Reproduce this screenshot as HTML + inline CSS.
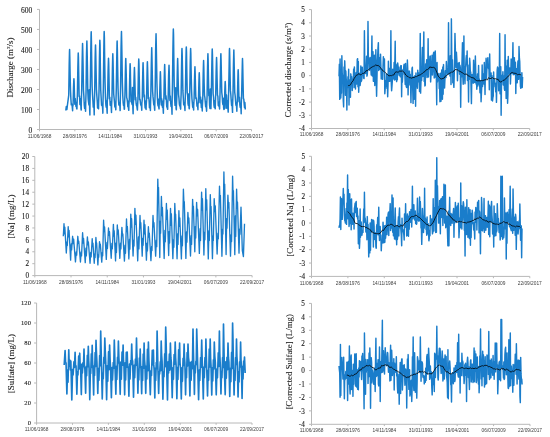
<!DOCTYPE html>
<html><head><meta charset="utf-8"><style>
html,body{margin:0;padding:0;background:#fff;width:550px;height:437px;overflow:hidden}
svg{display:block}
.yl{font-family:"Liberation Serif",serif;fill:#1a1a1a;stroke:#1a1a1a;stroke-width:0.1px;text-anchor:end}
.dl{font-family:"Liberation Sans",sans-serif;font-size:4.8px;fill:#404040;text-anchor:middle}
.tt{font-family:"Liberation Serif",serif;fill:#1a1a1a;stroke:#1a1a1a;stroke-width:0.08px;text-anchor:middle}
</style></head><body>
<svg width="550" height="437" viewBox="0 0 550 437">
<rect width="550" height="437" fill="#fff"/>
<path d="M65.80,110.48L66.30,106.48L66.90,109.48L67.50,104.48L68.75,95.05L69.20,64.25L69.48,51.99L69.60,49.43L69.80,57.33L70.10,74.23L70.50,89.93L70.90,99.12L71.30,104.83L71.65,104.69L72.00,104.27L72.35,107.95L72.60,110.66L72.67,106.79L73.07,105.04L73.52,87.62L73.80,80.61L73.92,78.86L74.12,81.85L74.42,93.12L74.82,104.26L75.22,98.45L75.62,102.71L75.97,106.55L76.32,102.93L76.67,108.78L76.92,108.88L76.99,106.84L77.39,94.53L77.84,68.37L78.12,56.67L78.24,53.04L78.44,57.26L78.74,75.20L79.14,96.48L79.54,96.11L79.94,104.47L80.29,104.87L80.64,99.08L80.99,108.88L81.24,110.08L81.32,102.95L81.72,88.55L82.17,60.32L82.45,47.69L82.57,43.43L82.77,51.35L83.07,64.97L83.47,90.18L83.87,96.02L84.27,105.21L84.62,108.35L84.97,102.95L85.32,108.56L85.57,111.22L85.64,106.62L86.04,92.17L86.49,55.29L86.77,44.21L86.89,41.03L87.09,49.31L87.39,64.76L87.79,90.96L88.19,99.17L88.59,102.49L88.94,104.90L89.29,89.81L89.64,108.91L89.89,115.03L89.96,106.02L90.36,82.79L90.81,49.94L91.09,34.20L91.21,31.82L91.41,40.53L91.71,60.92L92.11,86.46L92.51,94.58L92.91,100.77L93.26,107.12L93.61,104.59L93.96,107.24L94.21,114.87L94.28,105.46L94.69,92.37L95.13,58.62L95.41,47.37L95.53,45.03L95.73,51.17L96.03,68.15L96.44,89.34L96.83,95.57L97.23,100.84L97.58,107.88L97.94,105.62L98.28,108.15L98.53,108.80L98.61,103.68L99.01,91.75L99.46,57.62L99.74,44.25L99.86,40.23L100.06,44.69L100.36,67.89L100.76,90.26L101.16,97.69L101.56,105.18L101.91,105.00L102.26,105.52L102.61,107.99L102.86,113.13L102.93,106.32L103.33,88.00L103.78,52.21L104.06,34.69L104.18,31.42L104.38,38.10L104.68,60.57L105.08,83.26L105.48,97.71L105.88,104.83L106.23,107.22L106.58,101.00L106.93,109.14L107.18,113.29L107.25,102.66L107.65,94.40L108.10,70.42L108.38,61.66L108.50,58.24L108.70,62.49L109.00,77.63L109.40,98.75L109.80,97.15L110.20,105.23L110.55,105.27L110.90,101.65L111.25,107.20L111.50,112.56L111.57,106.23L111.97,96.89L112.42,68.42L112.70,56.49L112.82,53.84L113.02,60.32L113.32,74.84L113.72,94.07L114.12,98.27L114.52,102.36L114.87,107.05L115.22,104.74L115.57,107.08L115.82,109.82L115.90,104.11L116.30,88.67L116.75,58.90L117.03,42.85L117.15,41.03L117.35,49.45L117.65,67.33L118.05,88.45L118.45,99.33L118.85,104.70L119.20,105.28L119.55,102.66L119.90,106.78L120.15,110.59L120.22,104.25L120.62,85.64L121.07,47.85L121.35,35.19L121.47,31.42L121.67,40.47L121.97,56.79L122.37,82.89L122.77,95.75L123.17,102.68L123.52,105.35L123.87,103.08L124.22,109.30L124.47,109.04L124.54,103.95L124.94,95.09L125.39,71.61L125.67,60.11L125.79,58.44L125.99,65.16L126.29,76.82L126.69,97.54L127.09,99.02L127.49,102.38L127.84,106.66L128.19,101.36L128.54,109.07L128.79,110.24L128.87,104.84L129.27,99.21L129.72,77.51L130.00,65.93L130.12,63.65L130.31,67.39L130.62,83.93L131.02,101.78L131.42,99.14L131.81,103.18L132.17,104.58L132.52,87.57L132.87,107.87L133.12,113.75L133.19,106.44L133.59,99.89L134.04,78.75L134.32,70.01L134.44,67.45L134.64,72.86L134.94,83.54L135.34,99.63L135.74,97.29L136.14,103.45L136.49,105.53L136.84,106.00L137.19,109.01L137.44,109.96L137.51,107.12L137.91,99.61L138.36,73.46L138.64,61.75L138.76,59.04L138.96,63.48L139.26,78.58L139.66,99.74L140.06,99.25L140.46,103.22L140.81,104.98L141.16,104.29L141.51,106.82L141.76,110.26L141.83,103.75L142.23,99.47L142.68,76.63L142.96,64.83L143.08,62.64L143.28,69.04L143.58,80.93L143.98,97.09L144.38,94.89L144.78,103.24L145.13,108.01L145.48,101.25L145.83,106.58L146.08,109.46L146.15,105.61L146.55,100.09L147.00,75.35L147.28,63.76L147.40,61.84L147.60,67.51L147.90,80.22L148.30,98.37L148.70,97.23L149.10,100.64L149.45,107.82L149.80,105.52L150.15,106.67L150.40,110.49L150.48,106.64L150.88,91.22L151.33,63.36L151.61,51.41L151.73,47.63L151.93,55.69L152.23,71.59L152.63,91.30L153.03,96.88L153.43,100.98L153.78,104.83L154.13,101.68L154.48,108.05L154.73,110.29L154.80,105.48L155.20,89.00L155.65,49.52L155.93,37.90L156.05,33.82L156.25,43.25L156.55,61.31L156.95,83.82L157.35,97.29L157.75,103.66L158.10,105.85L158.45,99.34L158.80,107.70L159.05,108.89L159.12,105.40L159.52,101.57L159.97,84.31L160.25,74.50L160.37,71.65L160.57,75.71L160.87,89.25L161.27,104.89L161.67,98.84L162.07,103.60L162.42,107.13L162.77,101.15L163.12,108.39L163.37,113.24L163.44,107.47L163.84,100.17L164.29,77.31L164.57,66.94L164.69,64.45L164.89,70.79L165.19,82.74L165.59,98.93L166.00,95.72L166.39,100.69L166.75,107.06L167.09,103.83L167.44,108.84L167.69,109.25L167.77,102.76L168.17,98.29L168.62,75.26L168.90,68.21L169.02,65.25L169.22,71.62L169.52,84.91L169.92,100.40L170.32,96.03L170.72,103.29L171.07,106.43L171.42,106.06L171.77,107.45L172.02,114.29L172.09,103.87L172.49,81.81L172.94,48.27L173.22,33.15L173.34,29.02L173.54,34.90L173.84,59.24L174.24,87.05L174.64,98.24L175.04,105.37L175.39,105.24L175.74,87.78L176.09,108.84L176.34,109.73L176.41,105.94L176.81,97.50L177.26,73.56L177.54,61.16L177.66,58.44L177.86,65.46L178.16,80.07L178.56,94.49L178.96,98.07L179.36,104.12L179.71,105.76L180.06,104.70L180.41,108.35L180.66,109.11L180.73,104.41L181.13,94.29L181.58,65.24L181.86,50.64L181.98,48.43L182.18,53.67L182.48,69.29L182.88,90.39L183.28,97.37L183.68,104.81L184.03,104.92L184.38,103.02L184.73,107.44L184.98,110.45L185.06,104.60L185.46,91.68L185.91,61.08L186.19,48.84L186.31,47.03L186.51,51.78L186.81,71.18L187.21,92.41L187.61,94.84L188.01,103.51L188.36,105.28L188.71,94.06L189.06,107.93L189.31,108.85L189.38,106.72L189.78,91.45L190.23,62.70L190.51,52.12L190.63,48.43L190.83,53.16L191.13,71.23L191.53,89.21L191.93,98.54L192.33,102.85L192.68,107.19L193.03,102.83L193.38,107.94L193.63,109.97L193.70,105.62L194.10,98.72L194.55,78.61L194.83,69.09L194.95,66.85L195.15,72.30L195.45,85.78L195.85,98.41L196.25,97.90L196.65,101.13L197.00,106.10L197.35,105.50L197.70,106.66L197.95,109.78L198.02,103.93L198.42,102.43L198.87,83.54L199.15,74.61L199.27,72.85L199.47,77.87L199.77,90.90L200.17,102.64L200.57,97.10L200.97,100.95L201.32,107.43L201.67,100.56L202.02,106.79L202.27,111.01L202.35,106.66L202.75,99.23L203.20,73.89L203.48,63.66L203.60,60.44L203.80,66.83L204.10,82.45L204.50,95.34L204.90,97.67L205.30,102.35L205.65,106.66L206.00,101.64L206.35,108.33L206.60,111.19L206.67,106.05L207.07,96.29L207.52,68.69L207.80,56.69L207.92,53.64L208.12,59.04L208.42,76.15L208.82,95.65L209.22,95.32L209.62,105.42L209.97,108.46L210.32,89.08L210.67,107.58L210.92,108.61L210.99,106.39L211.39,89.78L211.84,65.37L212.12,51.80L212.24,49.03L212.44,54.34L212.74,70.29L213.14,94.11L213.54,97.09L213.94,105.25L214.29,107.33L214.64,101.05L214.99,107.74L215.24,108.78L215.31,105.82L215.72,93.58L216.16,71.03L216.44,60.70L216.56,57.44L216.76,62.74L217.06,77.50L217.47,95.24L217.87,96.12L218.26,105.27L218.62,105.92L218.97,102.46L219.31,106.56L219.56,109.05L219.64,106.78L220.04,92.20L220.49,68.01L220.77,55.43L220.89,53.64L221.09,60.01L221.39,74.60L221.79,92.50L222.19,95.92L222.59,102.38L222.94,104.60L223.29,98.25L223.64,107.83L223.89,109.42L223.96,105.93L224.36,108.91L224.81,90.52L225.09,83.17L225.21,81.46L225.41,85.14L225.71,94.75L226.11,108.27L226.51,95.07L226.91,104.04L227.26,108.05L227.61,100.86L227.96,109.00L228.21,112.12L228.28,105.74L228.68,89.98L229.13,66.01L229.41,50.33L229.53,48.43L229.73,55.58L230.03,73.35L230.43,90.64L230.83,94.52L231.23,100.68L231.58,105.47L231.93,100.55L232.28,107.82L232.53,112.37L232.60,105.50L233.00,94.14L233.45,64.73L233.73,53.92L233.85,50.03L234.05,57.91L234.35,73.99L234.75,92.34L235.16,95.72L235.55,100.69L235.91,105.21L236.25,102.66L236.60,107.28L236.85,111.24L236.93,107.17L237.33,100.82L237.78,82.13L238.06,71.42L238.18,69.85L238.38,74.43L238.68,88.91L239.08,101.77L239.48,97.26L239.88,105.11L240.23,107.44L240.58,104.41L240.93,107.36L241.18,113.67L241.25,104.44L241.65,94.28L242.10,73.50L242.38,61.82L242.50,58.44L242.70,64.87L243.00,80.08L243.40,98.73L243.80,99.09L244.20,104.43L244.55,107.59L244.90,102.59L245.25,108.39L245.30,109.48" fill="none" stroke="#1a7dcb" stroke-width="1.5" stroke-linejoin="round"/>
<path d="M63.30,236.30L63.60,230.94L64.00,223.79L64.50,233.77L64.84,227.26L66.31,252.97L66.94,241.97L67.28,245.53L68.20,226.77L68.73,236.81L69.08,230.49L70.62,260.16L71.28,243.99L71.63,249.95L72.60,236.30L73.22,243.50L73.64,239.13L75.46,261.90L76.24,251.95L76.66,255.20L77.80,236.30L78.38,243.25L78.76,241.25L80.44,262.01L81.16,252.01L81.54,255.87L82.60,232.72L83.18,242.97L83.56,238.49L85.24,262.69L85.96,248.24L86.34,255.90L87.40,236.89L87.98,244.73L88.36,241.82L90.04,263.25L90.76,252.41L91.14,256.87L92.20,238.68L92.64,246.04L92.94,243.06L94.23,263.29L94.79,253.93L95.09,257.54L95.90,237.49L96.33,243.04L96.62,242.81L97.88,264.85L98.42,254.72L98.71,257.19L99.50,241.66L99.99,246.74L100.32,244.05L101.75,262.10L102.37,252.55L102.70,255.73L103.60,220.22L104.19,231.57L104.58,226.92L106.30,259.35L107.03,242.51L107.42,248.56L108.50,227.96L109.09,235.31L109.48,231.67L111.20,258.29L111.93,243.37L112.32,248.76L113.40,224.39L113.87,236.06L114.18,230.74L115.55,260.86L116.13,242.90L116.44,252.53L117.30,224.98L117.85,234.16L118.22,229.82L119.83,258.34L120.52,243.23L120.89,248.95L121.90,227.36L122.45,235.58L122.82,233.84L124.43,261.09L125.12,245.14L125.49,253.33L126.50,219.03L127.02,231.57L127.36,226.52L128.87,258.90L129.51,239.19L129.85,249.17L130.80,214.26L131.29,226.96L131.62,218.72L133.06,256.00L133.67,240.07L134.00,246.03L134.90,208.31L135.51,224.23L135.92,215.19L137.71,260.85L138.47,237.01L138.88,248.86L140.00,215.45L140.48,227.83L140.80,222.70L142.20,256.12L142.80,238.19L143.12,245.31L144.00,220.22L144.53,233.85L144.88,224.79L146.42,260.16L147.08,243.06L147.43,250.89L148.40,226.77L148.95,237.09L149.32,233.17L150.93,260.66L151.62,246.46L151.99,250.51L153.00,215.45L153.58,226.87L153.96,222.69L155.64,256.19L156.36,240.14L156.74,246.62L157.80,179.13L158.23,194.90L158.52,187.53L159.78,257.57L160.32,221.28L160.61,233.23L161.40,196.40L162.00,215.54L162.40,207.44L164.15,258.52L164.90,230.43L165.30,241.75L166.40,203.54L166.89,219.34L167.22,210.01L168.66,255.46L169.27,231.43L169.60,243.04L170.50,208.31L171.02,225.44L171.36,213.80L172.87,258.67L173.51,239.56L173.85,247.31L174.80,203.54L175.29,215.63L175.62,214.17L177.06,258.85L177.67,233.72L178.00,244.44L178.90,210.69L179.44,226.32L179.80,217.85L181.38,258.88L182.05,235.84L182.41,245.85L183.40,189.25L183.94,203.84L184.30,201.62L185.88,258.37L186.55,231.87L186.91,242.12L187.90,212.48L188.46,222.89L188.84,218.03L190.49,256.00L191.19,235.59L191.57,244.38L192.60,199.38L193.08,210.64L193.40,206.16L194.80,251.81L195.40,226.53L195.72,237.99L196.60,202.35L197.20,215.89L197.60,209.53L199.35,253.43L200.10,228.76L200.50,240.59L201.60,192.23L202.10,210.11L202.44,198.78L203.91,255.02L204.54,232.11L204.88,239.72L205.80,188.66L206.34,209.91L206.70,199.75L208.28,258.91L208.95,230.72L209.31,240.51L210.30,194.61L210.77,211.27L211.08,206.40L212.44,258.63L213.03,235.86L213.34,240.37L214.20,198.78L214.84,211.64L215.26,205.93L217.12,253.99L217.91,233.18L218.33,238.72L219.50,186.28L220.03,201.64L220.38,195.30L221.92,256.29L222.58,229.22L222.93,233.98L223.90,171.98L224.38,194.43L224.70,184.28L226.10,254.56L226.70,218.53L227.02,228.29L227.90,195.21L228.46,207.92L228.84,202.43L230.49,256.18L231.19,234.77L231.57,241.53L232.60,176.15L233.08,194.87L233.40,190.56L234.80,254.62L235.40,215.96L235.72,236.40L236.60,189.25L237.13,208.38L237.48,201.99L239.02,253.17L239.68,228.99L240.03,234.21L241.00,207.12L242.32,250.60L243.42,256.54L244.52,223.79" fill="none" stroke="#1a7dcb" stroke-width="1.35" stroke-linejoin="round"/>
<path d="M64.20,365.00L65.10,350.60L65.57,362.51L66.04,362.89L66.89,393.95L67.54,369.86L68.01,382.23L68.77,349.75L69.24,366.09L69.80,360.00L70.33,370.01L70.86,361.15L71.81,399.98L72.56,369.56L73.09,374.86L73.93,361.85L74.46,367.49L75.10,352.30L75.56,367.09L76.02,365.82L76.85,394.28L77.49,371.60L77.95,374.86L78.69,356.03L79.15,369.01L79.70,353.20L80.13,363.81L80.56,365.62L81.33,394.56L81.94,364.15L82.37,373.07L83.05,362.58L83.48,366.21L84.00,349.00L84.43,366.63L84.86,368.77L85.63,393.23L86.24,366.40L86.67,375.78L87.35,355.26L87.78,366.62L88.30,346.30L88.69,359.81L89.08,367.79L89.78,399.64L90.33,372.11L90.72,373.42L91.34,353.76L91.73,367.35L92.20,345.40L92.58,361.09L92.96,369.75L93.64,394.87L94.18,365.75L94.56,375.53L95.16,352.58L95.54,366.59L96.00,340.30L96.47,353.15L96.94,362.25L97.79,393.50L98.44,368.54L98.91,380.32L99.67,355.58L100.14,365.77L100.70,331.00L101.11,348.85L101.52,366.61L102.26,398.88L102.83,372.98L103.24,378.81L103.90,357.40L104.31,363.29L104.80,338.00L105.28,351.36L105.76,361.92L106.62,399.62L107.30,365.80L107.78,381.13L108.54,351.92L109.02,369.71L109.60,345.00L110.07,359.30L110.54,366.75L111.39,397.76L112.04,367.47L112.51,379.97L113.27,362.48L113.74,368.11L114.30,340.00L114.71,353.86L115.12,370.19L115.86,394.21L116.43,366.36L116.84,379.46L117.50,357.41L117.91,363.10L118.40,341.00L118.87,357.34L119.34,365.93L120.19,394.34L120.84,362.00L121.31,379.25L122.07,352.05L122.54,365.16L123.10,345.00L123.51,360.95L123.92,364.15L124.66,394.84L125.23,362.95L125.64,380.04L126.30,352.32L126.71,367.14L127.20,352.00L127.65,366.45L128.10,367.25L128.91,396.26L129.54,363.97L129.99,379.08L130.71,360.46L131.16,364.70L131.70,344.00L132.18,359.17L132.66,361.18L133.52,397.20L134.20,365.23L134.68,377.76L135.44,359.03L135.92,365.33L136.50,338.00L136.87,353.23L137.24,363.30L137.91,393.28L138.42,369.18L138.79,379.87L139.39,357.99L139.76,367.17L140.20,349.00L140.59,364.05L140.98,369.24L141.68,393.75L142.23,366.60L142.62,380.40L143.24,354.10L143.63,368.29L144.10,343.00L144.53,359.50L144.96,365.17L145.73,393.34L146.34,365.98L146.77,378.86L147.45,349.31L147.88,370.66L148.40,342.00L148.90,360.11L149.40,370.39L150.30,394.79L151.00,370.85L151.50,375.49L152.30,350.28L152.80,364.80L153.40,350.00L153.77,364.63L154.14,369.82L154.81,398.01L155.32,367.96L155.69,380.42L156.29,362.56L156.66,368.67L157.10,331.00L157.51,349.12L157.92,368.26L158.66,393.50L159.23,371.63L159.64,374.02L160.30,361.72L160.71,370.69L161.20,341.00L161.65,355.33L162.10,361.66L162.91,399.22L163.54,371.85L163.99,376.62L164.71,353.87L165.16,366.79L165.70,327.00L166.17,344.35L166.64,366.70L167.49,399.97L168.14,361.82L168.61,373.03L169.37,354.09L169.84,370.07L170.40,343.00L170.88,357.96L171.36,362.29L172.22,397.78L172.90,367.95L173.38,379.39L174.14,354.51L174.62,364.16L175.20,342.00L175.64,357.43L176.08,364.84L176.87,398.63L177.49,367.30L177.93,379.40L178.63,349.72L179.07,364.47L179.60,343.00L180.05,362.99L180.50,368.42L181.31,398.91L181.94,367.93L182.39,381.38L183.11,358.27L183.56,365.56L184.10,344.00L184.49,357.28L184.88,362.86L185.58,394.82L186.13,369.13L186.52,377.67L187.14,352.67L187.53,366.10L188.00,344.00L188.50,357.33L189.00,361.55L189.90,395.94L190.60,362.23L191.10,380.30L191.90,361.32L192.40,368.69L193.00,329.00L193.37,349.53L193.74,363.57L194.41,394.39L194.92,365.89L195.29,373.07L195.89,361.33L196.26,364.37L196.70,329.00L197.20,346.49L197.70,365.62L198.60,399.68L199.30,370.06L199.80,380.37L200.60,357.58L201.10,367.13L201.70,340.00L202.12,357.09L202.54,370.12L203.30,398.90L203.88,367.01L204.30,377.60L204.98,357.57L205.40,367.06L205.90,339.00L206.33,355.62L206.76,369.20L207.53,396.02L208.14,370.36L208.57,380.34L209.25,349.01L209.68,366.99L210.20,339.00L210.61,358.30L211.02,365.80L211.76,395.05L212.33,367.75L212.74,380.98L213.40,359.93L213.81,369.08L214.30,342.00L214.81,356.22L215.32,362.33L216.24,394.83L216.95,368.96L217.46,377.81L218.28,352.83L218.79,366.51L219.40,331.00L219.81,353.80L220.22,364.04L220.96,393.98L221.53,371.43L221.94,377.84L222.60,357.51L223.01,367.38L223.50,324.00L223.95,347.85L224.40,370.51L225.21,394.63L225.84,361.75L226.29,378.14L227.01,357.25L227.46,369.78L228.00,343.00L228.46,357.67L228.92,362.06L229.75,396.48L230.39,368.31L230.85,381.71L231.59,352.40L232.05,368.56L232.60,323.00L232.99,339.99L233.38,361.37L234.08,395.00L234.63,370.95L235.02,380.37L235.64,357.57L236.03,364.45L236.50,339.00L236.91,356.35L237.32,362.61L238.06,396.95L238.63,371.57L239.04,381.91L239.70,361.72L240.11,366.92L240.60,342.00L240.99,359.34L241.38,366.07L242.08,398.53L242.63,366.65L243.02,379.08L243.64,361.07L244.03,364.46L244.50,357.00L245.16,373.00" fill="none" stroke="#1a7dcb" stroke-width="1.65" stroke-linejoin="round"/>
<path d="M339.00,76.21L339.36,64.28L339.72,99.37L340.07,58.95L340.43,77.84L340.79,98.07L341.15,89.96L341.51,93.16L341.86,55.84L342.22,73.39L342.58,76.28L342.94,75.95L343.29,100.85L343.65,106.89L344.01,67.01L344.37,73.44L344.73,60.85L345.08,71.38L345.44,95.24L345.80,71.07L346.16,78.26L346.52,82.88L346.87,110.00L347.23,85.61L347.59,87.44L347.95,76.69L348.31,84.91L348.66,69.24L349.02,104.97L349.38,80.54L349.74,80.00L350.09,94.17L350.45,97.28L350.81,73.85L351.17,78.85L351.53,76.38L351.88,79.68L352.24,90.46L352.60,79.83L352.96,87.79L353.32,78.43L353.67,69.04L354.03,82.09L354.39,66.89L354.75,87.50L355.11,78.66L355.46,89.07L355.82,74.74L356.18,72.43L356.54,84.13L356.89,76.32L357.25,59.44L357.61,58.68L357.97,86.69L358.33,61.55L358.68,92.28L359.04,81.95L359.40,76.14L359.76,73.25L360.12,85.53L360.47,81.98L360.83,66.07L361.19,81.44L361.55,80.77L361.91,78.25L362.26,67.11L362.62,74.28L362.98,73.34L363.34,73.62L363.69,78.10L364.05,78.56L364.41,30.74L364.77,65.76L365.13,73.22L365.48,73.51L365.84,69.09L366.20,65.50L366.56,56.21L366.92,76.15L367.27,74.92L367.63,68.29L367.99,21.49L368.35,56.41L368.71,59.79L369.06,61.97L369.42,70.31L369.78,60.99L370.14,57.46L370.49,63.03L370.85,68.89L371.21,75.08L371.57,57.58L371.93,36.02L372.28,76.01L372.64,57.44L373.00,51.69L373.36,81.36L373.72,67.17L374.07,68.72L374.43,55.14L374.79,85.42L375.15,69.22L375.51,66.36L375.86,49.74L376.22,80.35L376.58,96.26L376.94,80.03L377.29,62.84L377.65,57.28L378.01,47.74L378.37,42.63L378.73,70.60L379.08,57.37L379.44,67.06L379.80,69.29L380.16,67.20L380.52,54.13L380.87,64.71L381.23,79.01L381.59,69.34L381.95,69.78L382.31,78.13L382.66,79.27L383.02,66.43L383.38,56.72L383.74,63.77L384.09,60.81L384.45,59.03L384.81,93.69L385.17,89.05L385.53,80.99L385.88,86.61L386.24,84.88L386.60,73.90L386.96,88.37L387.32,80.21L387.67,96.71L388.03,85.57L388.39,61.22L388.75,81.34L389.11,72.34L389.46,68.44L389.82,81.27L390.18,72.01L390.54,73.89L390.89,30.74L391.25,82.46L391.61,90.75L391.97,86.12L392.33,80.97L392.68,69.24L393.04,76.85L393.40,78.69L393.76,76.17L394.12,62.44L394.47,79.93L394.83,63.39L395.19,41.31L395.55,79.48L395.91,63.97L396.26,65.20L396.62,81.63L396.98,73.56L397.34,79.72L397.69,63.06L398.05,66.17L398.41,73.62L398.77,67.32L399.13,75.22L399.48,71.92L399.84,70.30L400.20,76.76L400.56,66.13L400.92,65.58L401.27,65.76L401.63,96.79L401.99,73.10L402.35,82.32L402.71,76.25L403.06,69.38L403.42,71.69L403.78,66.24L404.14,64.25L404.49,74.45L404.85,74.80L405.21,84.49L405.57,63.56L405.93,77.69L406.28,86.78L406.64,87.53L407.00,80.56L407.36,60.04L407.72,68.56L408.07,94.88L408.43,78.53L408.79,71.46L409.15,71.10L409.51,71.50L409.86,84.98L410.22,74.11L410.58,84.57L410.94,102.64L411.29,86.35L411.65,85.94L412.01,68.44L412.37,67.19L412.73,89.23L413.08,103.40L413.44,76.89L413.80,92.84L414.16,99.20L414.52,78.31L414.87,75.72L415.23,83.31L415.59,106.24L415.95,73.06L416.31,82.79L416.66,85.96L417.02,79.87L417.38,88.25L417.74,70.29L418.09,75.98L418.45,81.89L418.81,72.88L419.17,78.99L419.53,91.49L419.88,76.73L420.24,33.38L420.60,93.13L420.96,81.39L421.32,69.75L421.67,80.56L422.03,58.90L422.39,47.39L422.75,76.54L423.11,56.70L423.46,51.63L423.82,32.06L424.18,81.54L424.54,76.18L424.89,85.92L425.25,85.33L425.61,63.94L425.97,74.83L426.33,67.49L426.68,59.81L427.04,77.53L427.40,71.18L427.76,71.65L428.12,38.66L428.47,77.01L428.83,64.53L429.19,69.05L429.55,63.76L429.91,56.39L430.26,55.95L430.62,81.90L430.98,75.11L431.34,65.77L431.69,64.15L432.05,55.24L432.41,75.03L432.77,69.60L433.13,62.99L433.48,53.22L433.84,52.24L434.20,78.06L434.56,61.70L434.92,77.19L435.27,51.06L435.63,65.15L435.99,74.26L436.35,77.76L436.71,104.72L437.06,62.58L437.42,81.88L437.78,78.01L438.14,74.22L438.49,76.05L438.85,73.49L439.21,88.45L439.57,85.00L439.93,101.73L440.28,79.06L440.64,73.30L441.00,101.27L441.36,86.14L441.72,69.90L442.07,80.85L442.43,99.30L442.79,66.86L443.15,94.22L443.51,64.60L443.86,85.20L444.22,86.14L444.58,87.94L444.94,79.10L445.29,70.73L445.65,71.23L446.01,77.57L446.37,61.50L446.73,67.40L447.08,71.52L447.44,72.45L447.80,74.36L448.16,74.02L448.52,22.81L448.87,68.19L449.23,72.78L449.59,66.08L449.95,75.97L450.31,55.76L450.66,63.89L451.02,84.55L451.38,18.85L451.74,54.68L452.09,70.39L452.45,59.70L452.81,82.86L453.17,70.51L453.53,82.46L453.88,87.39L454.24,74.74L454.60,62.72L454.96,33.38L455.32,47.84L455.67,60.70L456.03,67.63L456.39,52.15L456.75,58.36L457.11,65.96L457.46,80.71L457.82,70.13L458.18,63.19L458.54,69.32L458.89,63.01L459.25,62.64L459.61,74.16L459.97,65.26L460.33,67.79L460.68,107.36L461.04,75.53L461.40,77.04L461.76,71.13L462.12,57.48L462.47,42.65L462.83,76.86L463.19,84.27L463.55,76.91L463.91,36.02L464.26,78.06L464.62,69.63L464.98,83.66L465.34,67.73L465.69,65.98L466.05,58.49L466.41,55.46L466.77,64.32L467.13,51.08L467.48,80.49L467.84,72.46L468.20,73.74L468.56,102.08L468.92,65.10L469.27,79.57L469.63,58.26L469.99,63.11L470.35,73.08L470.71,72.05L471.06,87.44L471.42,103.64L471.78,78.55L472.14,74.49L472.49,75.65L472.85,80.00L473.21,83.25L473.57,60.20L473.93,71.23L474.28,72.55L474.64,82.44L475.00,71.52L475.36,56.04L475.72,71.59L476.07,83.98L476.43,76.84L476.79,89.22L477.15,83.31L477.51,74.01L477.86,85.99L478.22,82.93L478.58,65.55L478.94,83.92L479.29,79.09L479.65,83.97L480.01,92.73L480.37,80.70L480.73,84.48L481.08,101.79L481.44,93.26L481.80,85.02L482.16,65.08L482.52,86.57L482.87,80.84L483.23,73.86L483.59,76.63L483.95,83.95L484.31,62.52L484.66,75.99L485.02,94.49L485.38,69.83L485.74,74.02L486.09,58.26L486.45,78.43L486.81,70.53L487.17,63.65L487.53,60.88L487.88,57.66L488.24,67.43L488.60,68.61L488.96,68.23L489.32,89.66L489.67,53.92L490.03,75.28L490.39,74.40L490.75,76.58L491.11,72.90L491.46,100.14L491.82,75.52L492.18,91.25L492.54,101.01L492.89,97.54L493.25,96.09L493.61,71.97L493.97,83.29L494.33,79.28L494.68,80.03L495.04,86.68L495.40,85.92L495.76,91.90L496.12,83.12L496.47,102.38L496.83,83.41L497.19,69.92L497.55,67.01L497.91,67.86L498.26,74.87L498.62,90.82L498.98,70.95L499.34,75.21L499.69,33.38L500.05,93.78L500.41,77.14L500.77,66.62L501.13,115.29L501.48,84.97L501.84,75.43L502.20,80.77L502.56,78.94L502.92,71.76L503.27,84.97L503.63,79.52L503.99,76.07L504.35,88.55L504.71,90.23L505.06,34.70L505.42,85.64L505.78,73.37L506.14,98.40L506.49,65.97L506.85,79.29L507.21,60.25L507.57,103.27L507.93,94.44L508.28,56.53L508.64,71.82L509.00,67.52L509.36,73.50L509.72,72.63L510.07,68.17L510.43,83.93L510.79,74.59L511.15,58.92L511.51,70.74L511.86,73.26L512.22,71.77L512.58,61.87L512.94,42.63L513.29,74.84L513.65,64.43L514.01,64.17L514.37,57.66L514.73,74.59L515.08,61.92L515.44,62.39L515.80,93.41L516.16,71.97L516.52,68.68L516.87,74.49L517.23,82.70L517.59,67.73L517.95,60.95L518.31,75.08L518.66,79.35L519.02,46.59L519.38,58.19L519.74,61.61L520.09,75.48L520.45,86.47L520.81,88.38L521.17,78.60L521.53,78.66L521.88,72.68L522.24,87.45L522.60,76.87" fill="none" stroke="#1a7dcb" stroke-width="1.45" stroke-linejoin="round"/>
<path d="M348.20,85.62L349.40,85.47L350.60,84.64L351.80,82.20L353.00,80.93L354.20,78.41L355.40,76.66L356.60,74.98L357.80,74.70L359.00,73.50L360.20,74.91L361.40,74.52L362.60,73.27L363.80,73.31L365.00,72.51L366.20,70.62L367.40,70.89L368.60,69.41L369.80,68.71L371.00,67.68L372.20,66.94L373.40,66.37L374.60,65.88L375.80,64.85L377.00,65.62L378.20,65.50L379.40,66.38L380.60,67.83L381.80,69.58L383.00,70.76L384.20,71.53L385.40,72.74L386.60,73.74L387.80,75.10L389.00,75.96L390.20,75.56L391.40,75.71L392.60,75.09L393.80,75.00L395.00,72.55L396.20,71.82L397.40,72.14L398.60,71.93L399.80,70.93L401.00,71.29L402.20,70.83L403.40,71.54L404.60,72.97L405.80,75.07L407.00,76.19L408.20,76.57L409.40,77.79L410.60,77.75L411.80,78.16L413.00,77.41L414.20,77.52L415.40,76.69L416.60,76.58L417.80,75.78L419.00,75.14L420.20,74.97L421.40,73.99L422.60,73.27L423.80,72.09L425.00,71.59L426.20,69.81L427.40,69.53L428.60,68.77L429.80,66.93L431.00,67.33L432.20,67.48L433.40,67.30L434.60,67.76L435.80,69.73L437.00,72.90L438.20,76.17L439.40,77.42L440.60,78.79L441.80,78.91L443.00,78.38L444.20,78.05L445.40,76.10L446.60,75.36L447.80,74.62L449.00,73.50L450.20,73.07L451.40,72.13L452.60,72.07L453.80,71.25L455.00,69.63L456.20,69.65L457.40,69.83L458.60,70.83L459.80,71.27L461.00,71.99L462.20,72.63L463.40,73.51L464.60,74.28L465.80,74.12L467.00,74.20L468.20,75.96L469.40,76.18L470.60,77.01L471.80,77.61L473.00,77.80L474.20,78.22L475.40,80.01L476.60,80.57L477.80,80.84L479.00,80.73L480.20,80.89L481.40,80.56L482.60,80.67L483.80,80.19L485.00,79.77L486.20,79.70L487.40,79.91L488.60,77.67L489.80,78.61L491.00,78.49L492.20,77.53L493.40,78.48L494.60,78.66L495.80,78.77L497.00,79.25L498.20,79.40L499.40,81.44L500.60,81.99L501.80,81.59L503.00,80.39L504.20,80.12L505.40,79.32L506.60,77.66L507.80,76.67L509.00,75.71L510.20,74.10L511.40,72.66L512.60,72.52L513.80,73.26L515.00,73.21L516.20,73.54L517.40,74.71L518.60,74.48L519.80,74.43L521.00,75.05" fill="none" stroke="#000" stroke-width="0.8" stroke-linejoin="round"/>
<path d="M339.00,227.92L339.36,225.73L339.72,226.65L340.07,219.27L340.43,197.05L340.79,229.47L341.15,203.01L341.51,198.65L341.86,215.80L342.22,219.36L342.58,206.71L342.94,198.66L343.30,188.49L343.66,201.86L344.01,194.24L344.37,215.93L344.73,220.33L345.09,221.30L345.45,223.07L345.80,214.51L346.16,208.44L346.52,224.39L346.88,203.07L347.24,211.23L347.59,174.98L347.95,218.72L348.31,189.54L348.67,209.87L349.03,226.42L349.39,222.98L349.74,193.74L350.10,223.60L350.46,201.79L350.82,199.85L351.18,229.79L351.53,198.86L351.89,219.21L352.25,217.06L352.61,224.22L352.97,213.15L353.32,218.08L353.68,216.02L354.04,229.00L354.40,208.34L354.76,206.61L355.12,203.35L355.47,212.54L355.83,203.28L356.19,201.44L356.55,216.56L356.91,214.96L357.26,208.21L357.62,219.05L357.98,216.01L358.34,243.76L358.70,229.25L359.05,220.63L359.41,248.36L359.77,241.29L360.13,209.02L360.49,237.28L360.85,230.96L361.20,222.03L361.56,231.15L361.92,235.29L362.28,231.65L362.64,230.74L362.99,232.39L363.35,219.56L363.71,209.09L364.07,222.53L364.43,192.33L364.78,218.81L365.14,217.97L365.50,220.82L365.86,231.93L366.22,222.95L366.58,224.40L366.93,239.70L367.29,216.60L367.65,228.64L368.01,224.45L368.37,234.53L368.72,256.87L369.08,248.38L369.44,230.00L369.80,252.87L370.16,223.07L370.51,250.20L370.87,223.42L371.23,232.22L371.59,219.40L371.95,226.73L372.31,229.28L372.66,231.04L373.02,219.88L373.38,247.09L373.74,220.82L374.10,226.15L374.45,239.54L374.81,233.76L375.17,232.93L375.53,233.34L375.89,247.04L376.24,248.17L376.60,226.40L376.96,224.41L377.32,227.58L377.68,217.50L378.04,234.76L378.39,226.41L378.75,207.15L379.11,233.11L379.47,240.52L379.83,232.99L380.18,226.58L380.54,239.79L380.90,235.07L381.26,250.79L381.62,242.79L381.97,242.01L382.33,243.02L382.69,234.90L383.05,222.28L383.41,233.30L383.77,242.86L384.12,236.73L384.48,225.98L384.84,242.28L385.20,225.39L385.56,238.20L385.91,233.26L386.27,234.15L386.63,217.28L386.99,234.63L387.35,229.01L387.70,223.41L388.06,214.10L388.42,212.28L388.78,235.54L389.14,211.89L389.50,221.40L389.85,211.88L390.21,203.60L390.57,230.43L390.93,224.39L391.29,228.00L391.64,220.92L392.00,195.00L392.36,224.44L392.72,232.16L393.08,198.08L393.43,235.80L393.79,220.02L394.15,225.45L394.51,238.95L394.87,217.04L395.23,207.99L395.58,226.57L395.94,239.72L396.30,227.64L396.66,244.81L397.02,225.91L397.37,239.48L397.73,236.52L398.09,222.17L398.45,216.64L398.81,235.87L399.16,214.55L399.52,207.96L399.88,225.09L400.24,227.83L400.60,224.84L400.95,230.98L401.31,235.50L401.67,245.71L402.03,218.11L402.39,230.81L402.75,229.48L403.10,231.50L403.46,232.03L403.82,234.57L404.18,240.01L404.54,214.01L404.89,227.07L405.25,222.31L405.61,203.64L405.97,227.58L406.33,215.91L406.68,236.07L407.04,228.01L407.40,213.86L407.76,223.43L408.12,235.52L408.48,236.27L408.83,216.03L409.19,229.16L409.55,211.70L409.91,215.66L410.27,222.22L410.62,218.56L410.98,209.54L411.34,216.91L411.70,227.07L412.06,213.25L412.41,186.32L412.77,218.75L413.13,210.03L413.49,212.35L413.85,204.83L414.21,217.29L414.56,219.90L414.92,218.43L415.28,210.95L415.64,223.57L416.00,219.06L416.35,224.32L416.71,223.78L417.07,217.66L417.43,198.27L417.79,220.13L418.14,213.58L418.50,215.47L418.86,221.21L419.22,216.67L419.58,196.89L419.94,220.50L420.29,201.40L420.65,210.83L421.01,228.03L421.37,226.12L421.73,244.37L422.08,231.46L422.44,208.54L422.80,216.61L423.16,215.80L423.52,232.43L423.87,217.28L424.23,228.14L424.59,188.16L424.95,224.32L425.31,217.91L425.67,219.87L426.02,229.54L426.38,229.09L426.74,235.27L427.10,216.98L427.46,233.84L427.81,228.33L428.17,223.66L428.53,231.12L428.89,240.80L429.25,238.73L429.60,230.39L429.96,235.86L430.32,215.53L430.68,225.12L431.04,225.29L431.40,223.82L431.75,219.04L432.11,227.94L432.47,233.85L432.83,232.23L433.19,198.71L433.54,229.22L433.90,230.96L434.26,207.85L434.62,212.41L434.98,222.09L435.33,180.32L435.69,232.43L436.05,221.26L436.41,232.35L436.77,157.63L437.13,213.04L437.48,185.81L437.84,206.30L438.20,206.78L438.56,222.96L438.92,223.05L439.27,215.43L439.63,200.60L439.99,217.33L440.35,233.76L440.71,199.87L441.06,198.79L441.42,217.57L441.78,203.78L442.14,198.94L442.50,196.75L442.86,225.40L443.21,208.76L443.57,217.70L443.93,184.32L444.29,209.27L444.65,223.04L445.00,209.69L445.36,184.99L445.72,227.68L446.08,226.16L446.44,219.65L446.79,216.28L447.15,221.46L447.51,233.16L447.87,245.71L448.23,215.50L448.59,211.28L448.94,245.71L449.30,214.77L449.66,197.35L450.02,219.58L450.38,222.41L450.73,225.49L451.09,213.55L451.45,216.38L451.81,216.46L452.17,223.30L452.52,214.20L452.88,215.70L453.24,212.84L453.60,208.59L453.96,237.22L454.32,213.87L454.67,222.94L455.03,213.17L455.39,202.41L455.75,220.42L456.11,221.87L456.46,222.49L456.82,207.76L457.18,206.07L457.54,220.40L457.90,215.35L458.25,203.27L458.61,216.40L458.97,237.69L459.33,229.88L459.69,227.01L460.05,217.80L460.40,227.78L460.76,182.99L461.12,226.90L461.48,205.53L461.84,228.93L462.19,208.00L462.55,220.20L462.91,207.32L463.27,201.73L463.63,203.98L463.98,211.47L464.34,230.34L464.70,222.67L465.06,256.05L465.42,207.19L465.77,209.43L466.13,211.98L466.49,234.55L466.85,199.77L467.21,229.44L467.57,214.94L467.92,237.29L468.28,228.47L468.64,207.67L469.00,210.91L469.36,238.52L469.71,222.48L470.07,209.64L470.43,245.32L470.79,213.19L471.15,237.60L471.50,214.40L471.86,223.60L472.22,210.25L472.58,213.96L472.94,224.01L473.30,223.87L473.65,230.08L474.01,222.75L474.37,230.38L474.73,239.06L475.09,212.02L475.44,222.44L475.80,207.38L476.16,210.99L476.52,209.43L476.88,230.02L477.23,213.29L477.59,202.13L477.95,207.51L478.31,203.84L478.67,200.45L479.03,232.78L479.38,210.89L479.74,212.50L480.10,227.65L480.46,253.71L480.82,216.22L481.17,230.59L481.53,197.47L481.89,204.48L482.25,227.17L482.61,230.89L482.96,228.01L483.32,219.75L483.68,227.08L484.04,198.58L484.40,232.39L484.76,220.85L485.11,218.52L485.47,215.82L485.83,230.23L486.19,222.95L486.55,218.79L486.90,217.40L487.26,227.23L487.62,224.45L487.98,216.05L488.34,201.24L488.69,234.43L489.05,214.37L489.41,205.10L489.77,236.76L490.13,206.71L490.49,207.21L490.84,221.84L491.20,206.46L491.56,201.38L491.92,214.80L492.28,220.14L492.63,234.01L492.99,230.08L493.35,222.10L493.71,247.04L494.07,205.95L494.42,225.50L494.78,236.08L495.14,213.97L495.50,213.72L495.86,235.63L496.22,224.92L496.57,231.73L496.93,230.13L497.29,203.67L497.65,214.80L498.01,221.89L498.36,218.46L498.72,226.46L499.08,232.51L499.44,227.65L499.80,223.15L500.15,239.91L500.51,237.76L500.87,176.32L501.23,227.18L501.59,215.88L501.95,236.46L502.30,176.32L502.66,239.21L503.02,227.09L503.38,234.71L503.74,237.66L504.09,233.64L504.45,198.03L504.81,222.76L505.17,228.74L505.53,226.73L505.88,212.87L506.24,259.05L506.60,219.49L506.96,243.28L507.32,212.15L507.68,217.50L508.03,214.59L508.39,217.91L508.75,222.23L509.11,209.62L509.47,226.67L509.82,212.67L510.18,186.32L510.54,228.30L510.90,229.20L511.26,230.67L511.61,221.76L511.97,217.31L512.33,209.07L512.69,233.32L513.05,188.99L513.41,213.17L513.76,230.21L514.12,224.02L514.48,225.28L514.84,217.10L515.20,235.32L515.55,214.29L515.91,217.80L516.27,249.38L516.63,227.65L516.99,229.83L517.34,221.61L517.70,226.15L518.06,234.01L518.42,229.23L518.78,222.34L519.14,220.80L519.49,228.61L519.85,203.95L520.21,222.29L520.57,240.18L520.93,227.56L521.28,225.84L521.64,257.72L522.00,228.48" fill="none" stroke="#1a7dcb" stroke-width="1.45" stroke-linejoin="round"/>
<path d="M347.60,211.58L348.80,212.63L350.00,213.84L351.20,216.26L352.40,217.77L353.60,219.16L354.80,222.70L356.00,223.61L357.20,223.44L358.40,224.61L359.60,225.32L360.80,226.13L362.00,226.81L363.20,226.55L364.40,226.53L365.60,227.43L366.80,227.64L368.00,228.60L369.20,229.05L370.40,229.78L371.60,232.05L372.80,232.22L374.00,233.24L375.20,233.42L376.40,233.61L377.60,233.60L378.80,233.76L380.00,233.30L381.20,231.90L382.40,230.11L383.60,230.49L384.80,228.22L386.00,227.14L387.20,225.52L388.40,225.15L389.60,225.28L390.80,224.00L392.00,224.58L393.20,225.39L394.40,226.65L395.60,225.94L396.80,225.52L398.00,225.78L399.20,226.97L400.40,225.89L401.60,225.68L402.80,226.11L404.00,224.14L405.20,222.86L406.40,221.54L407.60,221.44L408.80,220.27L410.00,218.17L411.20,216.77L412.40,216.46L413.60,216.57L414.80,215.81L416.00,214.95L417.20,216.07L418.40,217.06L419.60,217.62L420.80,218.84L422.00,220.03L423.20,221.12L424.40,222.40L425.60,223.42L426.80,224.51L428.00,224.78L429.20,225.96L430.40,225.61L431.60,224.35L432.80,222.95L434.00,220.72L435.20,217.87L436.40,215.76L437.60,213.00L438.80,210.88L440.00,208.51L441.20,208.60L442.40,208.86L443.60,208.83L444.80,209.58L446.00,210.38L447.20,212.22L448.40,214.75L449.60,215.20L450.80,217.44L452.00,217.99L453.20,219.99L454.40,220.13L455.60,221.29L456.80,221.89L458.00,222.09L459.20,221.36L460.40,221.77L461.60,221.68L462.80,222.28L464.00,222.45L465.20,222.64L466.40,223.09L467.60,222.16L468.80,222.06L470.00,221.76L471.20,221.44L472.40,220.57L473.60,220.53L474.80,218.92L476.00,219.50L477.20,218.00L478.40,218.22L479.60,217.06L480.80,217.74L482.00,218.56L483.20,220.03L484.40,219.84L485.60,221.16L486.80,220.64L488.00,222.29L489.20,221.71L490.40,221.65L491.60,222.00L492.80,223.52L494.00,223.68L495.20,224.12L496.40,224.03L497.60,224.23L498.80,224.57L500.00,223.33L501.20,223.22L502.40,222.51L503.60,221.58L504.80,222.20L506.00,223.14L507.20,222.26L508.40,224.36L509.60,224.15L510.80,224.85L512.00,225.90L513.20,226.00L514.40,226.29L515.60,226.93L516.80,225.95L518.00,226.47L519.20,226.28L520.40,227.38" fill="none" stroke="#000" stroke-width="0.8" stroke-linejoin="round"/>
<path d="M339.00,366.05L339.36,369.78L339.72,372.85L340.07,397.27L340.43,344.37L340.79,395.42L341.15,365.57L341.51,364.43L341.87,357.41L342.22,364.14L342.58,369.94L342.94,379.01L343.30,376.68L343.66,357.29L344.02,379.86L344.37,398.78L344.73,375.26L345.09,379.51L345.45,377.36L345.81,371.42L346.17,377.45L346.52,378.22L346.88,362.34L347.24,373.82L347.60,400.41L347.96,374.69L348.32,361.41L348.67,383.96L349.03,376.44L349.39,345.91L349.75,387.09L350.11,394.07L350.47,381.47L350.82,357.66L351.18,354.94L351.54,389.61L351.90,370.15L352.26,375.96L352.62,376.18L352.97,396.38L353.33,364.19L353.69,384.18L354.05,371.45L354.41,373.51L354.77,354.03L355.12,361.22L355.48,386.00L355.84,376.14L356.20,353.69L356.56,387.10L356.92,376.72L357.27,369.79L357.63,389.33L357.99,389.05L358.35,389.74L358.71,368.07L359.07,376.92L359.42,360.64L359.78,369.12L360.14,363.93L360.50,370.70L360.86,361.45L361.22,370.37L361.57,379.57L361.93,356.06L362.29,357.99L362.65,353.54L363.01,367.96L363.37,374.02L363.72,383.10L364.08,408.78L364.44,332.95L364.80,361.58L365.16,371.18L365.52,394.21L365.87,359.54L366.23,372.20L366.59,364.09L366.95,369.99L367.31,366.55L367.67,359.76L368.02,383.40L368.38,371.46L368.74,370.58L369.10,353.07L369.46,376.58L369.82,348.04L370.17,359.27L370.53,408.18L370.89,373.73L371.25,357.67L371.61,362.60L371.97,382.88L372.32,369.99L372.68,372.46L373.04,378.38L373.40,376.65L373.76,384.27L374.12,374.23L374.47,368.21L374.83,378.38L375.19,391.59L375.55,359.58L375.91,338.33L376.26,376.55L376.62,372.83L376.98,375.78L377.34,363.17L377.70,374.99L378.06,359.75L378.41,384.15L378.77,385.89L379.13,372.13L379.49,347.07L379.85,365.36L380.21,401.46L380.56,361.99L380.92,361.74L381.28,372.65L381.64,366.40L382.00,346.68L382.36,320.19L382.71,372.20L383.07,370.29L383.43,350.64L383.79,370.31L384.15,354.66L384.51,374.09L384.86,357.34L385.22,347.71L385.58,355.31L385.94,361.84L386.30,363.13L386.66,365.72L387.01,358.38L387.37,352.50L387.73,352.94L388.09,361.13L388.45,372.28L388.81,371.46L389.16,362.85L389.52,365.67L389.88,380.93L390.24,359.43L390.60,345.20L390.96,380.29L391.31,366.71L391.67,350.26L392.03,360.19L392.39,375.41L392.75,368.21L393.11,362.70L393.46,373.49L393.82,358.82L394.18,390.10L394.54,362.86L394.90,366.22L395.26,372.17L395.61,370.30L395.97,370.26L396.33,356.63L396.69,376.02L397.05,371.65L397.41,386.26L397.76,392.93L398.12,374.23L398.48,388.51L398.84,381.03L399.20,404.15L399.56,377.52L399.91,371.10L400.27,362.37L400.63,393.59L400.99,375.24L401.35,364.14L401.71,358.97L402.06,359.05L402.42,389.94L402.78,380.39L403.14,369.18L403.50,365.51L403.86,372.92L404.21,364.78L404.57,374.08L404.93,385.28L405.29,375.66L405.65,369.02L406.01,370.82L406.36,375.16L406.72,408.07L407.08,380.89L407.44,358.97L407.80,367.71L408.16,354.60L408.51,375.23L408.87,389.36L409.23,382.00L409.59,369.78L409.95,395.96L410.31,386.33L410.66,394.36L411.02,381.52L411.38,380.14L411.74,401.46L412.10,389.15L412.45,356.67L412.81,367.95L413.17,336.98L413.53,385.21L413.89,390.48L414.25,372.88L414.60,352.71L414.96,375.58L415.32,392.26L415.68,374.10L416.04,374.44L416.40,382.85L416.75,398.14L417.11,383.07L417.47,356.74L417.83,359.36L418.19,361.84L418.55,370.00L418.90,367.04L419.26,361.09L419.62,372.40L419.98,368.63L420.34,336.98L420.70,362.73L421.05,381.18L421.41,363.76L421.77,361.85L422.13,362.16L422.49,363.60L422.85,376.34L423.20,377.51L423.56,375.98L423.92,375.68L424.28,383.86L424.64,376.65L425.00,378.80L425.35,382.25L425.71,368.25L426.07,380.39L426.43,369.67L426.79,356.62L427.15,354.58L427.50,373.68L427.86,362.29L428.22,370.87L428.58,348.11L428.94,356.41L429.30,362.38L429.65,379.39L430.01,377.67L430.37,365.92L430.73,376.01L431.09,377.77L431.45,371.90L431.80,387.36L432.16,394.87L432.52,383.67L432.88,384.58L433.24,372.41L433.60,380.30L433.95,373.49L434.31,391.54L434.67,353.24L435.03,364.36L435.39,377.50L435.75,364.30L436.10,353.96L436.46,357.69L436.82,326.24L437.18,359.21L437.54,355.82L437.90,377.97L438.25,380.01L438.61,370.41L438.97,353.42L439.33,348.34L439.69,363.09L440.05,348.50L440.40,354.22L440.76,366.02L441.12,373.54L441.48,372.67L441.84,365.08L442.20,351.01L442.55,357.36L442.91,380.98L443.27,377.64L443.63,359.01L443.99,366.14L444.35,378.97L444.70,361.86L445.06,354.88L445.42,361.48L445.78,369.42L446.14,356.58L446.50,375.68L446.85,378.22L447.21,382.06L447.57,397.43L447.93,349.63L448.29,398.78L448.65,366.69L449.00,368.46L449.36,363.49L449.72,360.97L450.08,366.76L450.44,375.20L450.79,384.76L451.15,384.86L451.51,401.91L451.87,374.50L452.23,382.28L452.59,372.76L452.94,374.04L453.30,383.82L453.66,377.95L454.02,367.88L454.38,370.34L454.74,381.51L455.09,379.94L455.45,365.45L455.81,368.78L456.17,367.73L456.53,372.55L456.89,362.51L457.24,369.20L457.60,342.66L457.96,374.75L458.32,376.96L458.68,334.30L459.04,369.60L459.39,376.94L459.75,363.58L460.11,392.95L460.47,362.89L460.83,372.62L461.19,364.26L461.54,375.53L461.90,353.30L462.26,363.12L462.62,360.95L462.98,362.97L463.34,376.05L463.69,368.61L464.05,383.59L464.41,379.48L464.77,364.61L465.13,366.69L465.49,363.24L465.84,375.46L466.20,369.71L466.56,401.46L466.92,366.13L467.28,360.65L467.64,357.20L467.99,362.91L468.35,377.54L468.71,366.71L469.07,380.08L469.43,389.54L469.79,366.97L470.14,367.90L470.50,360.76L470.86,359.84L471.22,381.93L471.58,378.39L471.94,364.35L472.29,367.76L472.65,364.11L473.01,382.52L473.37,371.16L473.73,361.54L474.09,348.03L474.44,381.86L474.80,350.94L475.16,371.40L475.52,368.29L475.88,353.98L476.24,382.56L476.59,380.78L476.95,360.48L477.31,357.05L477.67,375.89L478.03,375.83L478.39,383.94L478.74,366.60L479.10,392.71L479.46,383.06L479.82,355.88L480.18,360.44L480.54,328.92L480.89,362.38L481.25,378.89L481.61,361.38L481.97,385.74L482.33,358.66L482.69,351.30L483.04,376.56L483.40,354.72L483.76,365.39L484.12,367.58L484.48,387.10L484.84,367.61L485.19,356.65L485.55,384.44L485.91,371.24L486.27,373.66L486.63,383.63L486.98,354.95L487.34,365.99L487.70,365.79L488.06,355.70L488.42,374.39L488.78,331.56L489.13,371.70L489.49,379.48L489.85,360.38L490.21,363.31L490.57,377.90L490.93,377.49L491.28,359.03L491.64,365.01L492.00,363.91L492.36,371.01L492.72,375.25L493.08,355.40L493.43,368.85L493.79,361.58L494.15,379.25L494.51,361.37L494.87,366.51L495.23,342.96L495.58,371.87L495.94,353.28L496.30,361.85L496.66,343.10L497.02,367.34L497.38,364.79L497.73,393.85L498.09,383.83L498.45,368.55L498.81,365.73L499.17,361.92L499.53,379.45L499.88,361.33L500.24,373.36L500.60,380.78L500.96,319.52L501.32,357.28L501.68,319.52L502.03,367.86L502.39,365.64L502.75,369.48L503.11,368.92L503.47,378.09L503.83,362.02L504.18,379.46L504.54,378.71L504.90,354.88L505.26,349.04L505.62,347.32L505.98,365.11L506.33,374.79L506.69,361.31L507.05,352.87L507.41,368.47L507.77,374.29L508.13,388.07L508.48,388.52L508.84,339.75L509.20,386.64L509.56,378.30L509.92,374.59L510.28,332.95L510.63,385.75L510.99,366.00L511.35,366.15L511.71,371.65L512.07,378.76L512.43,375.76L512.78,392.15L513.14,364.45L513.50,376.47L513.86,385.23L514.22,370.65L514.58,364.62L514.93,365.80L515.29,354.13L515.65,356.50L516.01,374.34L516.37,343.70L516.73,365.36L517.08,383.93L517.44,365.04L517.80,370.34L518.16,359.96L518.52,373.18L518.88,378.91L519.23,362.31L519.59,360.46L519.95,396.09L520.31,402.62L520.67,357.36L521.03,373.90L521.38,379.60L521.74,379.15L522.10,384.49" fill="none" stroke="#1a7dcb" stroke-width="1.45" stroke-linejoin="round"/>
<path d="M346.80,375.17L348.00,375.15L349.20,376.13L350.40,376.08L351.60,375.15L352.80,375.99L354.00,374.65L355.20,374.11L356.40,373.81L357.60,372.13L358.80,370.55L360.00,369.86L361.20,369.83L362.40,367.74L363.60,367.77L364.80,367.00L366.00,365.54L367.20,365.78L368.40,365.83L369.60,365.33L370.80,366.08L372.00,367.51L373.20,367.65L374.40,368.67L375.60,370.02L376.80,369.53L378.00,368.26L379.20,368.04L380.40,368.06L381.60,365.46L382.80,365.86L384.00,365.38L385.20,364.73L386.40,365.22L387.60,364.94L388.80,366.69L390.00,367.49L391.20,366.97L392.40,368.15L393.60,369.19L394.80,369.60L396.00,370.79L397.20,370.71L398.40,372.08L399.60,372.30L400.80,373.23L402.00,374.44L403.20,375.76L404.40,375.73L405.60,377.20L406.80,377.49L408.00,376.90L409.20,377.29L410.40,375.62L411.60,375.19L412.80,375.10L414.00,373.99L415.20,374.46L416.40,373.32L417.60,373.57L418.80,371.68L420.00,371.37L421.20,372.31L422.40,371.08L423.60,372.27L424.80,371.66L426.00,372.71L427.20,373.79L428.40,373.93L429.60,373.67L430.80,373.76L432.00,373.74L433.20,371.91L434.40,370.30L435.60,368.22L436.80,366.83L438.00,365.68L439.20,364.85L440.40,365.71L441.60,366.23L442.80,366.28L444.00,368.55L445.20,370.35L446.40,372.14L447.60,371.67L448.80,373.22L450.00,373.81L451.20,373.96L452.40,372.99L453.60,373.02L454.80,371.84L456.00,371.25L457.20,370.16L458.40,369.67L459.60,368.38L460.80,368.06L462.00,367.51L463.20,367.96L464.40,368.60L465.60,368.20L466.80,368.23L468.00,368.69L469.20,368.58L470.40,367.91L471.60,368.59L472.80,368.18L474.00,368.73L475.20,368.09L476.40,368.44L477.60,368.08L478.80,367.07L480.00,366.68L481.20,366.07L482.40,365.70L483.60,366.08L484.80,365.29L486.00,365.36L487.20,365.41L488.40,366.89L489.60,366.52L490.80,367.26L492.00,367.62L493.20,368.78L494.40,368.80L495.60,369.29L496.80,368.90L498.00,369.15L499.20,369.90L500.40,369.82L501.60,368.23L502.80,368.83L504.00,368.77L505.20,370.43L506.40,368.95L507.60,369.75L508.80,370.27L510.00,371.73L511.20,371.99L512.40,371.11L513.60,371.41L514.80,370.90L516.00,369.13L517.20,369.61L518.40,369.66L519.60,370.08L520.80,370.87" fill="none" stroke="#000" stroke-width="0.8" stroke-linejoin="round"/>
<path d="M39.50,129.50H251.50M39.50,129.50V9.40" stroke="#b8b8b8" stroke-width="1" fill="none"/>
<path d="M37.00,129.50H39.50M37.00,109.48H39.50M37.00,89.47H39.50M37.00,69.45H39.50M37.00,49.43H39.50M37.00,29.42H39.50M37.00,9.40H39.50M39.50,129.50V131.30M74.83,129.50V131.30M110.17,129.50V131.30M145.50,129.50V131.30M180.83,129.50V131.30M216.17,129.50V131.30M251.50,129.50V131.30" stroke="#b8b8b8" stroke-width="1" fill="none"/>
<text x="32.25" y="132.94" class="yl" font-size="7.5">0</text>
<text x="32.25" y="112.92" class="yl" font-size="7.5">100</text>
<text x="32.25" y="92.90" class="yl" font-size="7.5">200</text>
<text x="32.25" y="72.89" class="yl" font-size="7.5">300</text>
<text x="32.25" y="52.87" class="yl" font-size="7.5">400</text>
<text x="32.25" y="32.85" class="yl" font-size="7.5">500</text>
<text x="32.25" y="12.84" class="yl" font-size="7.5">600</text>
<text x="39.50" y="137.70" class="dl">11/06/1968</text>
<text x="74.83" y="137.70" class="dl">28/08/1976</text>
<text x="110.17" y="137.70" class="dl">14/11/1984</text>
<text x="145.50" y="137.70" class="dl">31/01/1993</text>
<text x="180.83" y="137.70" class="dl">19/04/2001</text>
<text x="216.17" y="137.70" class="dl">06/07/2009</text>
<text x="251.50" y="137.70" class="dl">22/09/2017</text>
<text transform="translate(13.40,67.50) rotate(-90)" class="tt" font-size="9">Discharge (m<tspan font-size="5" dy="-3.1">3</tspan><tspan dy="3.1">/s)</tspan></text>
<path d="M311.50,128.50H529.70M311.50,128.50V9.60" stroke="#b8b8b8" stroke-width="1" fill="none"/>
<path d="M309.00,128.50H311.50M309.00,115.29H311.50M309.00,102.08H311.50M309.00,88.87H311.50M309.00,75.66H311.50M309.00,62.44H311.50M309.00,49.23H311.50M309.00,36.02H311.50M309.00,22.81H311.50M309.00,9.60H311.50M311.50,128.50V130.30M347.87,128.50V130.30M384.23,128.50V130.30M420.60,128.50V130.30M456.97,128.50V130.30M493.33,128.50V130.30M529.70,128.50V130.30" stroke="#b8b8b8" stroke-width="1" fill="none"/>
<text x="304.85" y="131.18" class="yl" font-size="7.2">-4</text>
<text x="304.85" y="117.97" class="yl" font-size="7.2">-3</text>
<text x="304.85" y="104.76" class="yl" font-size="7.2">-2</text>
<text x="304.85" y="91.55" class="yl" font-size="7.2">-1</text>
<text x="304.85" y="78.34" class="yl" font-size="7.2">0</text>
<text x="304.85" y="65.13" class="yl" font-size="7.2">1</text>
<text x="304.85" y="51.92" class="yl" font-size="7.2">2</text>
<text x="304.85" y="38.71" class="yl" font-size="7.2">3</text>
<text x="304.85" y="25.49" class="yl" font-size="7.2">4</text>
<text x="304.85" y="12.28" class="yl" font-size="7.2">5</text>
<text x="311.50" y="136.00" class="dl">11/06/1968</text>
<text x="347.87" y="136.00" class="dl">28/08/1976</text>
<text x="384.23" y="136.00" class="dl">14/11/1984</text>
<text x="420.60" y="136.00" class="dl">31/01/1993</text>
<text x="456.97" y="136.00" class="dl">19/04/2001</text>
<text x="493.33" y="136.00" class="dl">06/07/2009</text>
<text x="529.70" y="136.00" class="dl">22/09/2017</text>
<text transform="translate(290.70,69.90) rotate(-90)" class="tt" font-size="8.88">Corrected discharge (s/m<tspan font-size="5" dy="-3.1">3</tspan><tspan dy="3.1">)</tspan></text>
<path d="M34.80,275.60H252.10M34.80,275.60V156.50" stroke="#b8b8b8" stroke-width="1" fill="none"/>
<path d="M32.30,275.60H34.80M32.30,263.69H34.80M32.30,251.78H34.80M32.30,239.87H34.80M32.30,227.96H34.80M32.30,216.05H34.80M32.30,204.14H34.80M32.30,192.23H34.80M32.30,180.32H34.80M32.30,168.41H34.80M32.30,156.50H34.80M34.80,275.60V277.40M71.02,275.60V277.40M107.23,275.60V277.40M143.45,275.60V277.40M179.67,275.60V277.40M215.88,275.60V277.40M252.10,275.60V277.40" stroke="#b8b8b8" stroke-width="1" fill="none"/>
<text x="29.05" y="278.28" class="yl" font-size="7.2">0</text>
<text x="29.05" y="266.37" class="yl" font-size="7.2">2</text>
<text x="29.05" y="254.46" class="yl" font-size="7.2">4</text>
<text x="29.05" y="242.55" class="yl" font-size="7.2">6</text>
<text x="29.05" y="230.64" class="yl" font-size="7.2">8</text>
<text x="29.05" y="218.73" class="yl" font-size="7.2">10</text>
<text x="29.05" y="206.82" class="yl" font-size="7.2">12</text>
<text x="29.05" y="194.91" class="yl" font-size="7.2">14</text>
<text x="29.05" y="183.00" class="yl" font-size="7.2">16</text>
<text x="29.05" y="171.09" class="yl" font-size="7.2">18</text>
<text x="29.05" y="159.18" class="yl" font-size="7.2">20</text>
<text x="34.80" y="284.00" class="dl">11/06/1968</text>
<text x="71.02" y="284.00" class="dl">28/08/1976</text>
<text x="107.23" y="284.00" class="dl">14/11/1984</text>
<text x="143.45" y="284.00" class="dl">31/01/1993</text>
<text x="179.67" y="284.00" class="dl">19/04/2001</text>
<text x="215.88" y="284.00" class="dl">06/07/2009</text>
<text x="252.10" y="284.00" class="dl">22/09/2017</text>
<text transform="translate(14.30,216.60) rotate(-90)" class="tt" font-size="9">[Na] (mg/L)</text>
<path d="M311.50,276.40H529.80M311.50,276.40V156.30" stroke="#b8b8b8" stroke-width="1" fill="none"/>
<path d="M309.00,276.40H311.50M309.00,263.06H311.50M309.00,249.71H311.50M309.00,236.37H311.50M309.00,223.02H311.50M309.00,209.68H311.50M309.00,196.33H311.50M309.00,182.99H311.50M309.00,169.64H311.50M309.00,156.30H311.50M311.50,276.40V278.20M347.88,276.40V278.20M384.27,276.40V278.20M420.65,276.40V278.20M457.03,276.40V278.20M493.42,276.40V278.20M529.80,276.40V278.20" stroke="#b8b8b8" stroke-width="1" fill="none"/>
<text x="305.15" y="279.08" class="yl" font-size="7.2">-4</text>
<text x="305.15" y="265.74" class="yl" font-size="7.2">-3</text>
<text x="305.15" y="252.39" class="yl" font-size="7.2">-2</text>
<text x="305.15" y="239.05" class="yl" font-size="7.2">-1</text>
<text x="305.15" y="225.71" class="yl" font-size="7.2">0</text>
<text x="305.15" y="212.36" class="yl" font-size="7.2">1</text>
<text x="305.15" y="199.02" class="yl" font-size="7.2">2</text>
<text x="305.15" y="185.67" class="yl" font-size="7.2">3</text>
<text x="305.15" y="172.33" class="yl" font-size="7.2">4</text>
<text x="305.15" y="158.98" class="yl" font-size="7.2">5</text>
<text x="311.50" y="284.70" class="dl">11/06/1968</text>
<text x="347.88" y="284.70" class="dl">28/08/1976</text>
<text x="384.27" y="284.70" class="dl">14/11/1984</text>
<text x="420.65" y="284.70" class="dl">31/01/1993</text>
<text x="457.03" y="284.70" class="dl">19/04/2001</text>
<text x="493.42" y="284.70" class="dl">06/07/2009</text>
<text x="529.80" y="284.70" class="dl">22/09/2017</text>
<text transform="translate(293.00,215.80) rotate(-90)" class="tt" font-size="9">[Corrected Na] (L/mg)</text>
<path d="M36.60,423.00H252.00M36.60,423.00V303.00" stroke="#b8b8b8" stroke-width="1" fill="none"/>
<path d="M34.10,423.00H36.60M34.10,403.00H36.60M34.10,383.00H36.60M34.10,363.00H36.60M34.10,343.00H36.60M34.10,323.00H36.60M34.10,303.00H36.60M36.60,423.00V424.80M72.50,423.00V424.80M108.40,423.00V424.80M144.30,423.00V424.80M180.20,423.00V424.80M216.10,423.00V424.80M252.00,423.00V424.80" stroke="#b8b8b8" stroke-width="1" fill="none"/>
<text x="30.95" y="425.48" class="yl" font-size="6.6">0</text>
<text x="30.95" y="405.48" class="yl" font-size="6.6">20</text>
<text x="30.95" y="385.48" class="yl" font-size="6.6">40</text>
<text x="30.95" y="365.48" class="yl" font-size="6.6">60</text>
<text x="30.95" y="345.48" class="yl" font-size="6.6">80</text>
<text x="30.95" y="325.48" class="yl" font-size="6.6">100</text>
<text x="30.95" y="305.48" class="yl" font-size="6.6">120</text>
<text x="36.60" y="431.30" class="dl">11/06/1968</text>
<text x="72.50" y="431.30" class="dl">28/08/1976</text>
<text x="108.40" y="431.30" class="dl">14/11/1984</text>
<text x="144.30" y="431.30" class="dl">31/01/1993</text>
<text x="180.20" y="431.30" class="dl">19/04/2001</text>
<text x="216.10" y="431.30" class="dl">06/07/2009</text>
<text x="252.00" y="431.30" class="dl">22/09/2017</text>
<text transform="translate(14.20,363.70) rotate(-90)" class="tt" font-size="9">[Sulfate] (mg/L)</text>
<path d="M311.50,424.30H530.00M311.50,424.30V303.40" stroke="#b8b8b8" stroke-width="1" fill="none"/>
<path d="M309.00,424.30H311.50M309.00,410.87H311.50M309.00,397.43H311.50M309.00,384.00H311.50M309.00,370.57H311.50M309.00,357.13H311.50M309.00,343.70H311.50M309.00,330.27H311.50M309.00,316.83H311.50M309.00,303.40H311.50M311.50,424.30V426.10M347.92,424.30V426.10M384.33,424.30V426.10M420.75,424.30V426.10M457.17,424.30V426.10M493.58,424.30V426.10M530.00,424.30V426.10" stroke="#b8b8b8" stroke-width="1" fill="none"/>
<text x="304.85" y="426.98" class="yl" font-size="7.2">-4</text>
<text x="304.85" y="413.55" class="yl" font-size="7.2">-3</text>
<text x="304.85" y="400.12" class="yl" font-size="7.2">-2</text>
<text x="304.85" y="386.68" class="yl" font-size="7.2">-1</text>
<text x="304.85" y="373.25" class="yl" font-size="7.2">0</text>
<text x="304.85" y="359.82" class="yl" font-size="7.2">1</text>
<text x="304.85" y="346.38" class="yl" font-size="7.2">2</text>
<text x="304.85" y="332.95" class="yl" font-size="7.2">3</text>
<text x="304.85" y="319.52" class="yl" font-size="7.2">4</text>
<text x="304.85" y="306.08" class="yl" font-size="7.2">5</text>
<text x="311.50" y="432.10" class="dl">11/06/1968</text>
<text x="347.92" y="432.10" class="dl">28/08/1976</text>
<text x="384.33" y="432.10" class="dl">14/11/1984</text>
<text x="420.75" y="432.10" class="dl">31/01/1993</text>
<text x="457.17" y="432.10" class="dl">19/04/2001</text>
<text x="493.58" y="432.10" class="dl">06/07/2009</text>
<text x="530.00" y="432.10" class="dl">22/09/2017</text>
<text transform="translate(291.50,361.70) rotate(-90)" class="tt" font-size="8.85">[Corrected Sulfate] (L/mg)</text>
</svg>
</body></html>
